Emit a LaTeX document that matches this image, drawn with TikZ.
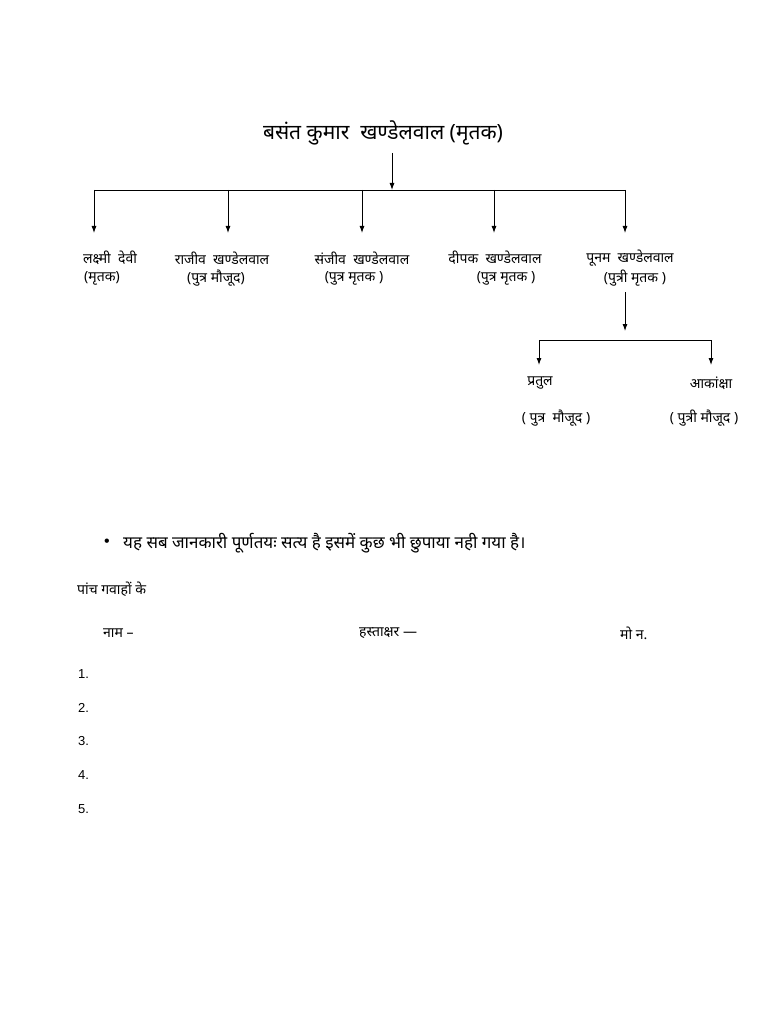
\documentclass[tikz,border=0pt]{standalone}
\usepackage{fontspec}
\usetikzlibrary{arrows.meta}
\setmainfont{Liberation Sans}
\newfontfamily\dev[Script=Devanagari]{Noto Sans}
\begin{document}
\begin{tikzpicture}[x=1pt,y=-1pt,
  lbl/.style={font=\dev\fontsize{14}{16}\selectfont,inner sep=0pt},
  arr/.style={-{Latex[length=7pt,width=5pt]},line width=0.9pt},
  ln/.style={line width=0.9pt}]
\useasboundingbox[fill=white] (0,0) rectangle (768,1024);
\node[font=\dev\fontsize{21}{24}\selectfont,inner sep=0pt] (root) at (383,133) {बसंत कुमार\ \ खण्डेलवाल (मृतक)};
\coordinate (rb) at (392,190);
\draw[arr] (392,153) -- (rb);
\coordinate (l1) at (94,190); \coordinate (l5) at (625,190);
\draw[ln] (l1) -- (l5);
\foreach \x/\n in {94/a,228/b,362/c,494/d,625/e}{
  \coordinate (t\n) at (\x,190);
  \coordinate (h\n) at (\x,233);
  \draw[arr] (t\n) -- (h\n);
}
\node[lbl] (n1) at (110,258) {लक्ष्मी\ \ देवी};
\node[lbl] (n1b) at (102,278) {(मृतक)};
\node[lbl] (n2) at (222,258) {राजीव\ \ खण्डेलवाल};
\node[lbl] (n2b) at (216,278) {(पुत्र मौजूद)};
\node[lbl] (n3) at (362,258) {संजीव\ \ खण्डेलवाल};
\node[lbl] (n3b) at (354,278) {(पुत्र मृतक )};
\node[lbl] (n4) at (495,258) {दीपक\ \ खण्डेलवाल};
\node[lbl] (n4b) at (506,278) {(पुत्र मृतक )};
\node[lbl] (n5) at (630,258) {पूनम\ \ खण्डेलवाल};
\node[lbl] (n5b) at (635,278) {(पुत्री मृतक )};
\coordinate (pb) at (625,331);
\draw[arr] (625,292) -- (pb);
\coordinate (m1) at (539,340); \coordinate (m2) at (711,340);
\draw[ln] (m1) -- (m2);
\coordinate (p1) at (539,365); \coordinate (p2) at (711,365);
\draw[arr] (m1) -- (p1);
\draw[arr] (m2) -- (p2);
\node[lbl] (c1) at (540,383) {प्रतुल};
\node[lbl] (c1b) at (556,418) {( पुत्र\ \ मौजूद )};
\node[lbl] (c2) at (711,383) {आकांक्षा};
\node[lbl] (c2b) at (704,418) {( पुत्री मौजूद )};
\node[font=\fontsize{16}{18}\selectfont,inner sep=0pt] (bul) at (107,543) {•};
\node[font=\dev\fontsize{17}{20}\selectfont,inner sep=0pt,anchor=west] (stmt) at (123,543) {यह सब जानकारी पूर्णतयः सत्य है इसमें कुछ भी छुपाया नही गया है।};
\node[lbl,anchor=west] (five) at (77,589) {पांच गवाहों के};
\node[lbl,anchor=west] (nam) at (103,633) {नाम –};
\node[lbl,anchor=west] (sig) at (359,633) {हस्ताक्षर —};
\node[lbl,anchor=west] (mob) at (620,633) {मो न.};
\foreach \i/\y in {1/674,2/708,3/741,4/775,5/809}{
  \node[font=\fontsize{13}{15}\selectfont,inner sep=0pt,anchor=west] (num\i) at (78,\y) {\i.};
}
\end{tikzpicture}
\end{document}
